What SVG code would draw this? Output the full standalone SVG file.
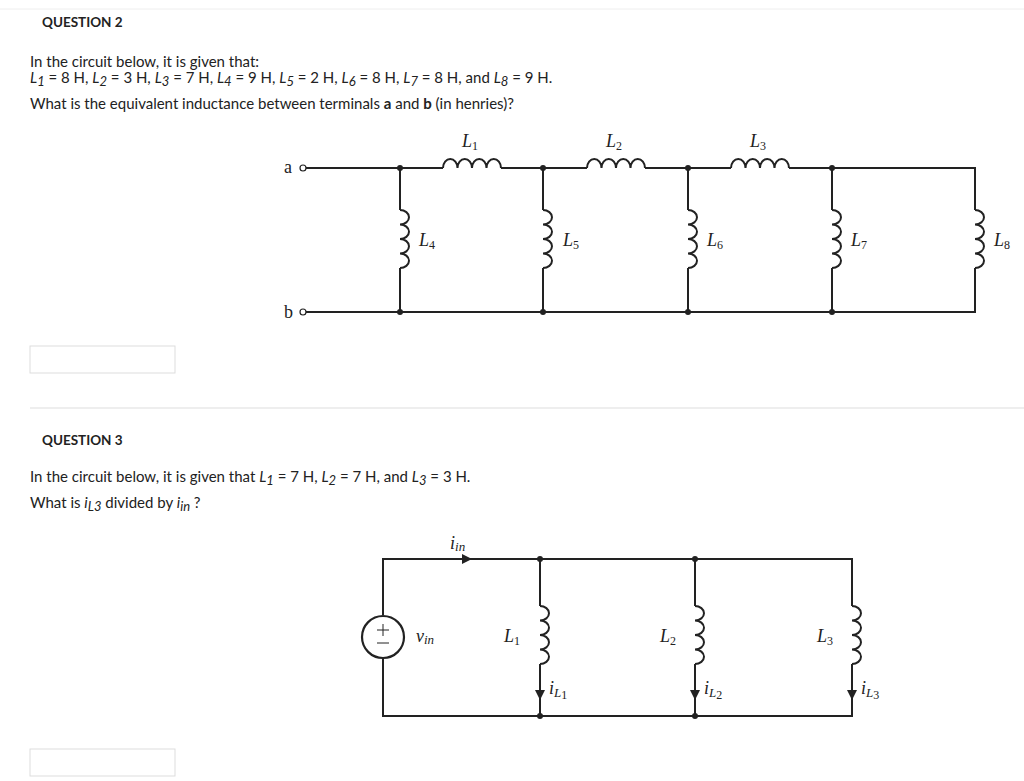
<svg xmlns="http://www.w3.org/2000/svg" width="1024" height="781" viewBox="0 0 1024 781">
<style>
.t{font-family:Lato,"Open Sans",sans-serif;font-size:15px;fill:#222}
.h{font-family:Lato,"Open Sans",sans-serif;font-size:13.5px;font-weight:bold;fill:#222}
.m{font-family:"Liberation Serif",serif;font-size:18px;font-style:italic;fill:#222}
.s{font-family:"Liberation Serif",serif;font-size:12px;font-style:normal;fill:#222}
.w{stroke:#222;stroke-width:2;fill:none}
.box{fill:#fff;stroke:#ddd;stroke-width:1}
</style>
<defs>
<path id="hc" d="M0,0 a7.25,9 0 0 1 14.5,0 a7.25,9 0 0 1 14.5,0 a7.25,9 0 0 1 14.5,0 a7.25,9 0 0 1 14.5,0" stroke="#222" stroke-width="2" fill="none"/>
<path id="vc" d="M0,0 a9,7.25 0 0 1 0,14.5 a9,7.25 0 0 1 0,14.5 a9,7.25 0 0 1 0,14.5 a9,7.25 0 0 1 0,14.5" stroke="#222" stroke-width="2" fill="none"/>
<marker id="ar" viewBox="0 0 10 10" refX="5" refY="5" markerWidth="10" markerHeight="10" orient="auto" markerUnits="userSpaceOnUse"><path d="M0,0 L10,5 L0,10 z" fill="#222"/></marker>
</defs>
<rect width="1024" height="781" fill="#fff"/>
<line x1="0" y1="9" x2="1024" y2="9" stroke="#eee"/>
<text class="h" x="42" y="27">QUESTION 2</text>
<text class="t" x="30" y="67">In the circuit below, it is given that:</text>
<text class="t" x="30" y="83"><tspan font-style="italic">L</tspan><tspan font-size="13" dy="3" font-style="italic">1</tspan><tspan dy="-3"> = 8 H, </tspan><tspan font-style="italic">L</tspan><tspan font-size="13" dy="3" font-style="italic">2</tspan><tspan dy="-3"> = 3 H, </tspan><tspan font-style="italic">L</tspan><tspan font-size="13" dy="3" font-style="italic">3</tspan><tspan dy="-3"> = 7 H,  </tspan><tspan font-style="italic">L</tspan><tspan font-size="13" dy="3" font-style="italic">4</tspan><tspan dy="-3"> = 9 H, </tspan><tspan font-style="italic">L</tspan><tspan font-size="13" dy="3" font-style="italic">5</tspan><tspan dy="-3"> = 2 H, </tspan><tspan font-style="italic">L</tspan><tspan font-size="13" dy="3" font-style="italic">6</tspan><tspan dy="-3"> = 8 H, </tspan><tspan font-style="italic">L</tspan><tspan font-size="13" dy="3" font-style="italic">7</tspan><tspan dy="-3"> = 8 H, and </tspan><tspan font-style="italic">L</tspan><tspan font-size="13" dy="3" font-style="italic">8</tspan><tspan dy="-3"> = 9 H.</tspan></text>
<text class="t" x="30" y="109">What is the equivalent inductance between terminals <tspan font-weight="bold">a</tspan> and <tspan font-weight="bold">b</tspan> (in henries)?</text>

<g id="circuit1">
<g id="wires1">
<path class="w" d="M306,168 H443 M501,168 H587 M645,168 H731 M789,168 H975 V210 M975,268 V312 H306"/>
<path class="w" d="M400,168 V210 M400,268 V312 M543,168 V210 M543,268 V312 M688,168 V210 M688,268 V312 M832,168 V210 M832,268 V312"/>
</g>
<circle cx="303" cy="168" r="3" fill="#fff" stroke="#222" stroke-width="1.2"/>
<circle cx="303" cy="312" r="3" fill="#fff" stroke="#222" stroke-width="1.2"/>
<text x="284" y="173" font-family="Liberation Serif,serif" font-size="18" fill="#222">a</text>
<text x="284" y="318" font-family="Liberation Serif,serif" font-size="18" fill="#222">b</text>
<g fill="#222"><circle cx="400" cy="168" r="3"/><circle cx="543" cy="168" r="3"/><circle cx="688" cy="168" r="3"/><circle cx="832" cy="168" r="3"/><circle cx="400" cy="312" r="3"/><circle cx="543" cy="312" r="3"/><circle cx="688" cy="312" r="3"/><circle cx="832" cy="312" r="3"/></g>
<g id="L1a"><use href="#hc" x="443" y="168"/><text class="m" x="462" y="147">L<tspan class="s" dy="3">1</tspan></text></g>
<g id="L2a"><use href="#hc" x="587" y="168"/><text class="m" x="606" y="147">L<tspan class="s" dy="3">2</tspan></text></g>
<g id="L3a"><use href="#hc" x="731" y="168"/><text class="m" x="750" y="147">L<tspan class="s" dy="3">3</tspan></text></g>
<g id="L4a"><use href="#vc" x="400" y="210"/><text class="m" x="419" y="246">L<tspan class="s" dy="3">4</tspan></text></g>
<g id="L5a"><use href="#vc" x="543" y="210"/><text class="m" x="563" y="246">L<tspan class="s" dy="3">5</tspan></text></g>
<g id="L6a"><use href="#vc" x="688" y="210"/><text class="m" x="707" y="246">L<tspan class="s" dy="3">6</tspan></text></g>
<g id="L7a"><use href="#vc" x="832" y="210"/><text class="m" x="851" y="246">L<tspan class="s" dy="3">7</tspan></text></g>
<g id="L8a"><use href="#vc" x="975" y="210"/><text class="m" x="994" y="246">L<tspan class="s" dy="3">8</tspan></text></g>
</g>
<rect class="box" x="30" y="346" width="145" height="27"/>
<line x1="30" y1="408" x2="1024" y2="408" stroke="#ddd"/>

<text class="h" x="42" y="445">QUESTION 3</text>
<text class="t" x="30" y="482">In the circuit below, it is given that <tspan font-style="italic">L</tspan><tspan font-size="13" dy="3" font-style="italic">1</tspan><tspan dy="-3"> = 7 H, </tspan><tspan font-style="italic">L</tspan><tspan font-size="13" dy="3" font-style="italic">2</tspan><tspan dy="-3"> = 7 H, and </tspan><tspan font-style="italic">L</tspan><tspan font-size="13" dy="3" font-style="italic">3</tspan><tspan dy="-3"> = 3 H.</tspan></text>
<text class="t" x="30" y="508">What is <tspan font-style="italic">i</tspan><tspan font-size="13" dy="3" font-style="italic">L3</tspan><tspan dy="-3"> divided by </tspan><tspan font-style="italic">i</tspan><tspan font-size="13" dy="3" font-style="italic">in</tspan><tspan dy="-3"> ?</tspan></text>

<g id="circuit2">
<g id="wires2">
<path class="w" d="M383,615 V559 H852 V606 M852,664 V716 H383 V659"/>
<path class="w" d="M540,559 V606 M540,664 V716 M695,559 V606 M695,664 V716"/>
<path class="w" d="M383,559 H467" marker-end="url(#ar)"/>
<path class="w" d="M540,664 V695" marker-end="url(#ar)"/>
<path class="w" d="M695,664 V695" marker-end="url(#ar)"/>
<path class="w" d="M852,664 V695" marker-end="url(#ar)"/>
</g>
<g fill="#222"><circle cx="540" cy="559" r="3"/><circle cx="695" cy="559" r="3"/><circle cx="540" cy="716" r="3"/><circle cx="695" cy="716" r="3"/></g>
<g id="vin"><circle cx="383" cy="637" r="21" fill="#fff" stroke="#222" stroke-width="2.2"/>
<path d="M377,630 H389 M383,624 V636 M377,643 H389" stroke="#222" stroke-width="1"/>
<text class="m" x="416" y="642">v<tspan font-size="13" dy="2">in</tspan></text></g>
<text class="m" x="450" y="549">i<tspan font-size="13" dy="2">in</tspan></text>
<g id="L1b"><use href="#vc" x="540" y="606"/><text class="m" x="504" y="642">L<tspan class="s" dy="3">1</tspan></text><text class="m" x="549" y="694">i<tspan font-size="13" dy="3">L</tspan><tspan class="s" dy="2">1</tspan></text></g>
<g id="L2b"><use href="#vc" x="695" y="606"/><text class="m" x="660" y="642">L<tspan class="s" dy="3">2</tspan></text><text class="m" x="704" y="694">i<tspan font-size="13" dy="3">L</tspan><tspan class="s" dy="2">2</tspan></text></g>
<g id="L3b"><use href="#vc" x="852" y="606"/><text class="m" x="817" y="642">L<tspan class="s" dy="3">3</tspan></text><text class="m" x="861" y="694">i<tspan font-size="13" dy="3">L</tspan><tspan class="s" dy="2">3</tspan></text></g>
</g>
<rect class="box" x="30" y="749" width="145" height="27"/>
</svg>
